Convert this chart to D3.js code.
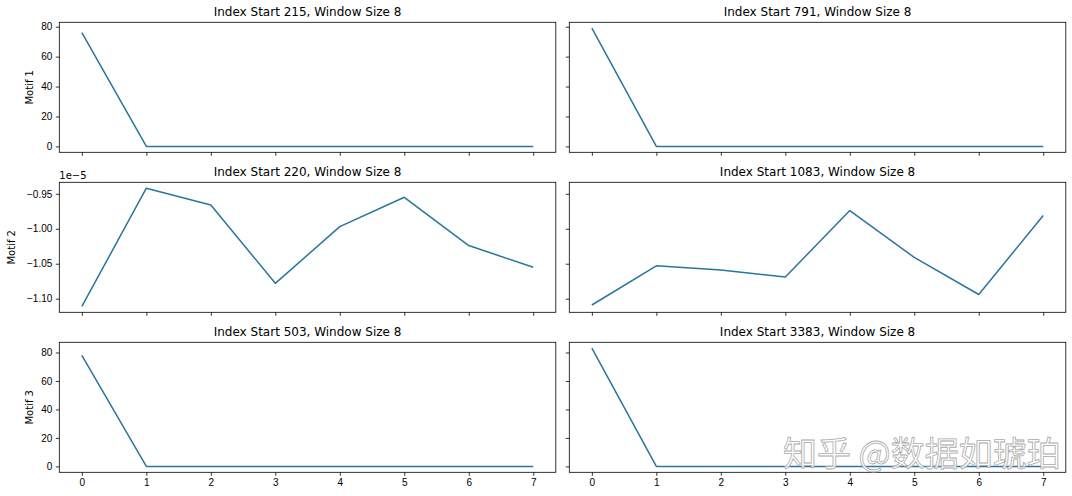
<!DOCTYPE html>
<html>
<head>
<meta charset="utf-8">
<script src="https://cdnjs.cloudflare.com/ajax/libs/d3/7.8.5/d3.min.js"></script>
<style>
  body { margin: 0; background: #fff; }
  svg { font-family: "DejaVu Sans", sans-serif; }
</style>
</head>
<body>
<div id="viz"></div>
<script>
// Datos
var steps = [0, 1, 2, 3, 4, 5, 6, 7];
var titles = [
  ['Index Start 215, Window Size 8', 'Index Start 791, Window Size 8'],
  ['Index Start 220, Window Size 8', 'Index Start 1083, Window Size 8'],
  ['Index Start 503, Window Size 8', 'Index Start 3383, Window Size 8']
];
var rowLabels = ['Motif 1', 'Motif 2', 'Motif 3'];

var motif1Left  = [76, 0, 0, 0, 0, 0, 0, 0];
var motif1Right = [79, 0, 0, 0, 0, 0, 0, 0];
// en unidades de 1e-5
var motif2Left  = [-1.111, -0.942, -0.966, -1.078, -0.997, -0.955, -1.024, -1.055];
var motif2Right = [-1.109, -1.053, -1.059, -1.069, -0.974, -1.041, -1.094, -0.981];
var motif3Left  = [78, 0, 0, 0, 0, 0, 0, 0];
var motif3Right = [83, 0, 0, 0, 0, 0, 0, 0];

var xTicks = [0, 1, 2, 3, 4, 5, 6, 7];
var yTicksBig = [0, 20, 40, 60, 80];
var yTicksSmall = [-1.10, -1.05, -1.00, -0.95];

var rows = [
  { series: [motif1Left, motif1Right], ticks: yTicksBig, fmt: d3.format('d'), labelX: 29 },
  { series: [motif2Left, motif2Right], ticks: yTicksSmall, fmt: d3.format('.2f'), labelX: 11, offset: '1e\u22125' },
  { series: [motif3Left, motif3Right], ticks: yTicksBig, fmt: d3.format('d'), labelX: 29 }
];

// Configuracion
var width = 1072, height = 496;
var colX = [59.3, 569.3], colW = 496.5;
var rowY = [22.3, 182.3, 342.3], rowH = 130;
var lineColor = '#28759f';

var svg = d3.select('#viz').append('svg')
  .attr('width', width)
  .attr('height', height);

function minus(s) { return s.replace('-', '\u2212'); }

// dominio compartido en x (margen 5%)
var xPad = (d3.max(steps) - d3.min(steps)) * 0.05;

rows.forEach(function (row, r) {
  // dominio compartido por fila
  var all = row.series[0].concat(row.series[1]);
  var lo = d3.min(all), hi = d3.max(all), pad = (hi - lo) * 0.05;

  for (var c = 0; c < 2; c++) {
    var x = d3.scaleLinear()
      .domain([d3.min(steps) - xPad, d3.max(steps) + xPad])
      .range([colX[c], colX[c] + colW]);
    var y = d3.scaleLinear()
      .domain([lo - pad, hi + pad])
      .range([rowY[r] + rowH, rowY[r]]);

    var g = svg.append('g');

    // linea
    var line = d3.line()
      .x(function (d, i) { return x(steps[i]); })
      .y(function (d) { return y(d); });
    g.append('path')
      .datum(row.series[c])
      .attr('d', line)
      .attr('fill', 'none')
      .attr('stroke', lineColor)
      .attr('stroke-width', 1.5)
      .attr('stroke-linejoin', 'round');

    // eje x
    var xAxis = d3.axisBottom(x)
      .tickValues(xTicks)
      .tickSize(3.5)
      .tickPadding(3.5)
      .tickFormat(r === 2 ? d3.format('d') : function () { return ''; });
    var gx = g.append('g')
      .attr('transform', 'translate(0,' + (rowY[r] + rowH) + ')')
      .call(xAxis);

    // eje y
    var yAxis = d3.axisLeft(y)
      .tickValues(row.ticks)
      .tickSize(3.5)
      .tickPadding(3.5)
      .tickFormat(c === 0 ? function (d) { return minus(row.fmt(d)); } : function () { return ''; });
    var gy = g.append('g')
      .attr('transform', 'translate(' + colX[c] + ',0)')
      .call(yAxis);

    [gx, gy].forEach(function (a) {
      a.select('.domain').remove();
      a.selectAll('line').attr('stroke', '#000').attr('stroke-width', 0.8);
      a.selectAll('text').attr('fill', '#000').style('font-size', '10px');
    });

    // marco
    g.append('rect')
      .attr('x', colX[c])
      .attr('y', rowY[r])
      .attr('width', colW)
      .attr('height', rowH)
      .attr('fill', 'none')
      .attr('stroke', '#000')
      .attr('stroke-width', 0.8);

    // titulo
    g.append('text')
      .attr('x', colX[c] + colW / 2)
      .attr('y', rowY[r] - 6)
      .attr('text-anchor', 'middle')
      .style('font-size', '12px')
      .text(titles[r][c]);

    if (c === 0) {
      g.append('text')
        .attr('transform', 'translate(' + row.labelX + ',' + (rowY[r] + rowH / 2) + ') rotate(-90)')
        .attr('text-anchor', 'middle')
        .attr('dominant-baseline', 'central')
        .style('font-size', '10px')
        .text(rowLabels[r]);
      if (row.offset) {
        g.append('text')
          .attr('x', colX[c])
          .attr('y', rowY[r] - 3)
          .style('font-size', '10px')
          .text(row.offset);
      }
    }
  }
});

// marca de agua
svg.append('text')
  .attr('x', 783)
  .attr('y', 466)
  .style('font-family', '"Noto Sans CJK SC", sans-serif')
  .style('font-size', '34px')
  .attr('fill', '#fff')
  .attr('fill-opacity', 0.85)
  .attr('stroke', '#aaa')
  .attr('stroke-width', 0.8)
  .text('知乎 @数据如琥珀');
</script>
</body>
</html>
